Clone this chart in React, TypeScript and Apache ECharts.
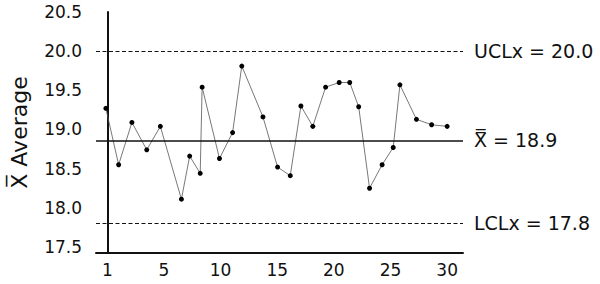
import React, { useEffect, useRef } from "react";
import * as echarts from "echarts";

// Sample positions along the x axis (axis units where tick "1" sits at 0, "30" at 30)
const sampleX = [
  -0.13, 1.0, 2.17, 3.48, 4.68, 6.54, 7.27, 8.2, 8.37, 9.9, 11.06, 11.87, 13.74,
  15.03, 16.15, 17.09, 18.14, 19.27, 20.47, 21.4, 22.19, 23.15, 24.26, 25.24,
  25.83, 27.29, 28.63, 30.0,
];
// Subgroup averages
const averages = [
  19.27, 18.55, 19.09, 18.74, 19.04, 18.11, 18.66, 18.44, 19.54, 18.63, 18.96,
  19.81, 19.16, 18.52, 18.41, 19.3, 19.04, 19.54, 19.6, 19.6, 19.29, 18.25,
  18.55, 18.77, 19.57, 19.13, 19.06, 19.04,
];
const xTickValues = [0, 5, 10, 15, 20, 25, 30];
const xTickLabels = ["1", "5", "10", "15", "20", "25", "30"];
const yTickValues = [17.5, 18.0, 18.5, 19.0, 19.5, 20.0, 20.5];

const limitValues = [20.0, 18.86, 17.8];
const limitLabels = ["UCLx = 20.0", "X\u033F = 18.9", "LCLx = 17.8"];
const limitDashed = [true, false, true];

const FONT = "DejaVu Sans";

export default function App() {
  const ref = useRef<HTMLDivElement>(null);
  useEffect(() => {
    if (!ref.current) return;
    const chart = echarts.init(ref.current, undefined, { renderer: "svg" });
    const data = sampleX.map((x, i) => [x, averages[i]]);
    chart.setOption({
      animation: false,
      backgroundColor: "#fff",
      grid: { left: 92, right: 137, top: 12, bottom: 31 },
      xAxis: {
        type: "value",
        min: -1,
        max: 31.4,
        splitLine: { show: false },
        axisTick: { show: false },
        axisLine: { show: true, lineStyle: { color: "#111", width: 2 } },
        axisLabel: {
          customValues: xTickValues,
          formatter: (v: number) => {
            const i = xTickValues.indexOf(Math.round(v));
            return i >= 0 ? xTickLabels[i] : "";
          },
          color: "#111",
          fontFamily: FONT,
          fontSize: 17,
          margin: 8,
        },
      },
      yAxis: {
        type: "value",
        min: 17.423,
        max: 20.5,
        splitLine: { show: false },
        axisTick: { show: false },
        axisLine: { show: true, lineStyle: { color: "#111", width: 2 } },
        axisLabel: {
          customValues: yTickValues,
          formatter: (v: number) => v.toFixed(1),
          color: "#111",
          fontFamily: FONT,
          fontSize: 17,
          margin: 14,
        },
        name: "X\u0305 Average",
        nameLocation: "middle",
        nameGap: 66,
        nameTextStyle: { color: "#111", fontFamily: FONT, fontSize: 22 },
      },
      series: [
        {
          type: "line",
          data,
          symbol: "circle",
          symbolSize: 5,
          itemStyle: { color: "#000" },
          lineStyle: { color: "#555", width: 0.8 },
          markLine: {
            silent: true,
            symbol: "none",
            data: limitValues.map((v, i) => ({
              yAxis: v,
              lineStyle: {
                color: "#111",
                type: limitDashed[i] ? [4, 2.5] : "solid",
                width: limitDashed[i] ? 1 : 1.6,
              },
              label: {
                show: true,
                position: "end",
                distance: 11,
                formatter: limitLabels[i],
                color: "#111",
                fontFamily: FONT,
                fontSize: 19,
              },
            })),
          },
          z: 3,
        },
      ],
    });
    return () => chart.dispose();
  }, []);
  return (
    <div
      ref={ref}
      style={{ position: "fixed", left: 0, top: 0, width: 600, height: 284 }}
    />
  );
}
